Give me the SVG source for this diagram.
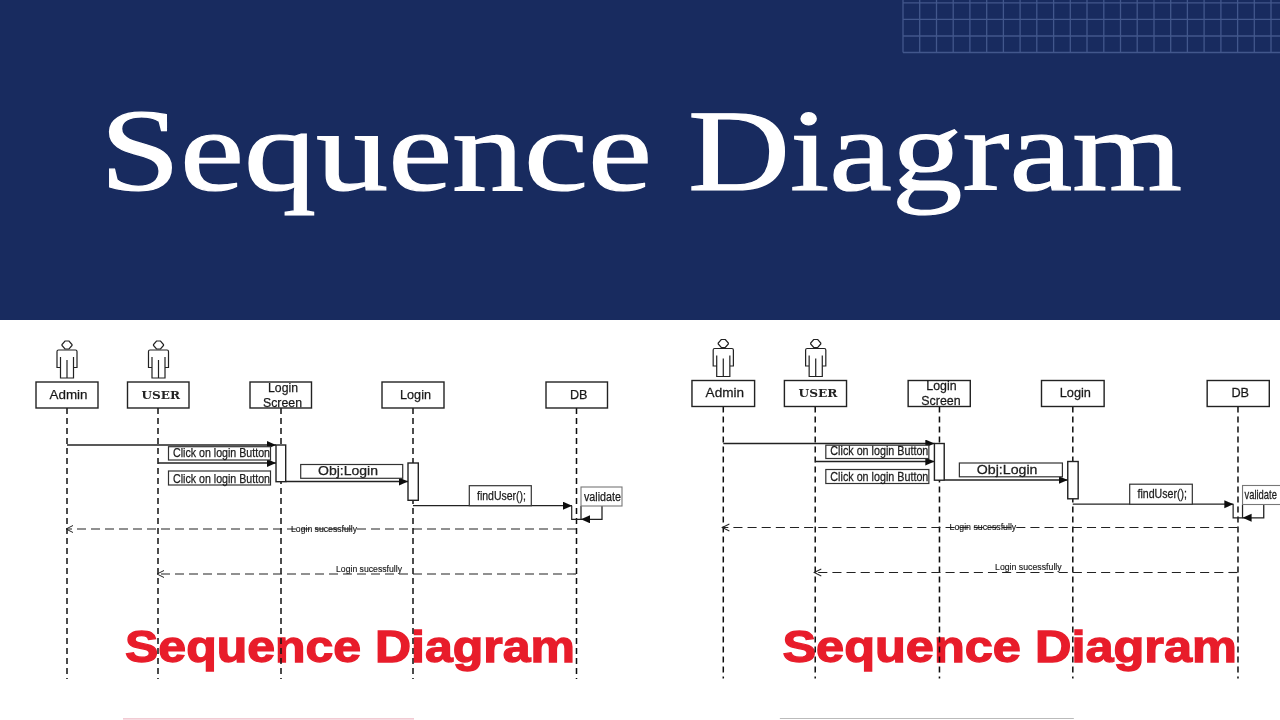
<svg xmlns="http://www.w3.org/2000/svg" width="1280" height="720" viewBox="0 0 1280 720">
<style>
.t{font-family:"Liberation Sans",Arial,sans-serif;fill:#1a1a1a;font-size:13.500px;stroke:#1a1a1a;stroke-width:.25}
.m{font-size:12.500px;fill:#222}
.s{font-size:8.500px;fill:#222;stroke-width:.15}
.u{font-family:"DejaVu Serif","Liberation Serif",serif;font-weight:700;font-size:11px;fill:#222}
.box{fill:#fff;stroke:#222;stroke-width:1.4}
.lab{fill:#fff;stroke:#333;stroke-width:1.2}
.act{fill:none;stroke:#222;stroke-width:1.200}
.life{fill:none;stroke:#111;stroke-width:1.500;stroke-dasharray:6 4}
.msg{fill:none;stroke:#222;stroke-width:1.300}
.ret{fill:none;stroke:#222;stroke-width:1.100;stroke-dasharray:9 5}
.red{font-family:"Liberation Sans",Arial,sans-serif;font-weight:700;font-size:44px;fill:#e81c2b;stroke:#e81c2b;stroke-width:1.300}
</style>
<defs>
<marker id="fa" markerWidth="10" markerHeight="9" refX="9" refY="4" orient="auto" markerUnits="userSpaceOnUse"><path d="M0 0L9 4L0 8z" fill="#111"/></marker>
<marker id="oa" markerWidth="9" markerHeight="9" refX="8" refY="4" orient="auto" markerUnits="userSpaceOnUse"><path d="M1 0.500L8 4L1 7.500" fill="none" stroke="#222" stroke-width="1"/></marker>
<filter id="soft" x="-2%" y="-2%" width="104%" height="104%"><feGaussianBlur stdDeviation="0.35"/></filter>
<g id="actor"><path d="M-2 -9H2L5 -5.500V-4.500L2 -1H-2L-5 -4.500V-5.500Z" fill="#fff" stroke="#222" stroke-width="1.200"/><path d="M-6.500 28V17.500H-10V1.500Q-10 0-8.500 0H8.500Q10 0 10 1.500V17.500H6.500V28ZM0 28V10M-6.500 17.500V7M6.500 17.500V7" fill="#fff" stroke="#222" stroke-width="1.200"/></g>
</defs>
<rect width="1280" height="320" fill="#182b5f"/>
<rect y="320" width="1280" height="400" fill="#fff"/>
<path id="grid" fill="none" stroke="#42578c" stroke-width="1.300" d="M903 0V52.500M919.700 0V52.500M936.500 0V52.500M953.200 0V52.500M969.900 0V52.500M986.700 0V52.500M1003.400 0V52.500M1020.100 0V52.500M1036.800 0V52.500M1053.600 0V52.500M1070.300 0V52.500M1087 0V52.500M1103.800 0V52.500M1120.500 0V52.500M1137.200 0V52.500M1154 0V52.500M1170.700 0V52.500M1187.400 0V52.500M1204.100 0V52.500M1220.900 0V52.500M1237.600 0V52.500M1254.300 0V52.500M1271 0V52.500M903 2.800H1280M903 19.400H1280M903 36H1280M903 52.500H1280"/>
<text y="190" font-family="'Liberation Serif','DejaVu Serif',serif" font-size="116" fill="#fff" stroke="#fff" stroke-width="1.200"><tspan x="100" textLength="552" lengthAdjust="spacingAndGlyphs">Sequence</tspan> <tspan x="688" textLength="494" lengthAdjust="spacingAndGlyphs">Diagram</tspan></text>

<g id="panel-left" filter="url(#soft)">
<text class="red" x="125" y="661.500" textLength="450" lengthAdjust="spacingAndGlyphs">Sequence Diagram</text>
<g id="connectors-left">
<path class="life" d="M67 408V679M158 408V679M281 408V679M413 408V679M576.500 408V679"/>
<path class="msg" d="M67 445H276" marker-end="url(#fa)"/>
<path class="msg" d="M158 463H276" marker-end="url(#fa)"/>
<path class="msg" d="M286 481.500H408" marker-end="url(#fa)"/>
<path class="msg" d="M413 505.700H572" marker-end="url(#fa)"/>
<path class="msg" d="M602 506V519.300H581" marker-end="url(#fa)"/>
<path class="ret" d="M576 529H66" marker-end="url(#oa)"/>
<path class="ret" d="M576 574H157" marker-end="url(#oa)"/>
</g>
<g id="admin-l"><use href="#actor" x="67" y="350"/><rect class="box" x="36" y="382" width="62" height="26"/><text class="t" x="49.500" y="398.500" textLength="38" lengthAdjust="spacingAndGlyphs">Admin</text></g>
<g id="user-l"><use href="#actor" x="158.500" y="350"/><rect class="box" x="127.500" y="382" width="61.500" height="26"/><text class="u" x="141.500" y="398.500" textLength="38.500" lengthAdjust="spacingAndGlyphs">USER</text></g>
<g id="screen-l"><rect class="box" x="250" y="382" width="61.500" height="26"/><text class="t" x="268" y="392" textLength="30" lengthAdjust="spacingAndGlyphs">Login</text><text class="t" x="263" y="407" textLength="39" lengthAdjust="spacingAndGlyphs">Screen</text></g>
<g id="login-l"><rect class="box" x="382" y="382" width="62" height="26"/><text class="t" x="400" y="398.500" textLength="31" lengthAdjust="spacingAndGlyphs">Login</text></g>
<g id="db-l"><rect class="box" x="546" y="382" width="61.500" height="26"/><text class="t" x="570" y="398.500" textLength="17.500" lengthAdjust="spacingAndGlyphs">DB</text></g>
<g id="act1-l"><rect class="box" x="276" y="445" width="9.700" height="36.700"/></g>
<g id="act2-l"><rect class="box" x="408" y="463" width="10.300" height="37.300"/></g>
<g id="act3-l"><path class="act" d="M571.700 505.700V519.300H581V506"/></g>
<g id="m1-l"><rect class="lab" x="168.500" y="446.700" width="102" height="13.300"/><text class="t m" x="173" y="457" textLength="97" lengthAdjust="spacingAndGlyphs">Click on login Button</text></g>
<g id="m2-l"><rect class="lab" x="168.500" y="471" width="102" height="14"/><text class="t m" x="173" y="482.500" textLength="97" lengthAdjust="spacingAndGlyphs">Click on login Button</text></g>
<g id="m3-l"><rect class="lab" x="300.700" y="464.500" width="102" height="13.800"/><text class="t m" x="318" y="475.300" textLength="60" lengthAdjust="spacingAndGlyphs">Obj:Login</text></g>
<g id="m4-l"><rect class="lab" x="469.300" y="485.700" width="62" height="20"/><text class="t m" x="477" y="500" textLength="49" lengthAdjust="spacingAndGlyphs">findUser();</text></g>
<g id="m5-l"><rect x="581" y="487" width="41" height="19" fill="#fff" stroke="#777" stroke-width="1.100"/><text class="t m" x="584" y="500.500" textLength="37" lengthAdjust="spacingAndGlyphs">validate</text></g>
<g id="r1-l"><text class="t s" x="291" y="532" textLength="66" lengthAdjust="spacingAndGlyphs">Login sucessfully</text></g>
<g id="r2-l"><text class="t s" x="336" y="572" textLength="66" lengthAdjust="spacingAndGlyphs">Login sucessfully</text></g>
<path d="M123 718.800H414" stroke="#eeb8c4" stroke-width="1.200" fill="none"/>
</g>

<g id="panel-right" filter="url(#soft)" transform="translate(655.600,-1.500) scale(1.0102,1)">
<text class="red" x="125.500" y="663.500" textLength="450" lengthAdjust="spacingAndGlyphs">Sequence Diagram</text>
<g id="connectors-right">
<path class="life" d="M67 408V680M158 408V680M281 408V680M413 408V680M576.500 408V680"/>
<path class="msg" d="M67 445H276" marker-end="url(#fa)"/>
<path class="msg" d="M158 463H276" marker-end="url(#fa)"/>
<path class="msg" d="M286 481.500H408" marker-end="url(#fa)"/>
<path class="msg" d="M413 505.700H572" marker-end="url(#fa)"/>
<path class="msg" d="M602 506V519.300H581" marker-end="url(#fa)"/>
<path class="ret" d="M576 529H66" marker-end="url(#oa)"/>
<path class="ret" d="M576 574H157" marker-end="url(#oa)"/>
</g>
<g id="admin-r"><use href="#actor" x="67" y="350"/><rect class="box" x="36" y="382" width="62" height="26"/><text class="t" x="49.500" y="398.500" textLength="38" lengthAdjust="spacingAndGlyphs">Admin</text></g>
<g id="user-r"><use href="#actor" x="158.500" y="350"/><rect class="box" x="127.500" y="382" width="61.500" height="26"/><text class="u" x="141.500" y="398.500" textLength="38.500" lengthAdjust="spacingAndGlyphs">USER</text></g>
<g id="screen-r"><rect class="box" x="250" y="382" width="61.500" height="26"/><text class="t" x="268" y="392" textLength="30" lengthAdjust="spacingAndGlyphs">Login</text><text class="t" x="263" y="407" textLength="39" lengthAdjust="spacingAndGlyphs">Screen</text></g>
<g id="login-r"><rect class="box" x="382" y="382" width="62" height="26"/><text class="t" x="400" y="398.500" textLength="31" lengthAdjust="spacingAndGlyphs">Login</text></g>
<g id="db-r"><rect class="box" x="546" y="382" width="61.500" height="26"/><text class="t" x="570" y="398.500" textLength="17.500" lengthAdjust="spacingAndGlyphs">DB</text></g>
<g id="act1-r"><rect class="box" x="276" y="445" width="9.700" height="36.700"/></g>
<g id="act2-r"><rect class="box" x="408" y="463" width="10.300" height="37.300"/></g>
<g id="act3-r"><path class="act" d="M571.700 505.700V519.300H581V506"/></g>
<g id="m1-r"><rect class="lab" x="168.500" y="446.700" width="102" height="13.300"/><text class="t m" x="173" y="457" textLength="97" lengthAdjust="spacingAndGlyphs">Click on login Button</text></g>
<g id="m2-r"><rect class="lab" x="168.500" y="471" width="102" height="14"/><text class="t m" x="173" y="482.500" textLength="97" lengthAdjust="spacingAndGlyphs">Click on login Button</text></g>
<g id="m3-r"><rect class="lab" x="300.700" y="464.500" width="102" height="13.800"/><text class="t m" x="318" y="475.300" textLength="60" lengthAdjust="spacingAndGlyphs">Obj:Login</text></g>
<g id="m4-r"><rect class="lab" x="469.300" y="485.700" width="62" height="20"/><text class="t m" x="477" y="500" textLength="49" lengthAdjust="spacingAndGlyphs">findUser();</text></g>
<g id="m5-r"><rect x="581" y="487" width="41" height="19" fill="#fff" stroke="#777" stroke-width="1.100"/><text class="t m" x="583" y="500.500" textLength="32" lengthAdjust="spacingAndGlyphs">validate</text></g>
<g id="r1-r"><text class="t s" x="291" y="532" textLength="66" lengthAdjust="spacingAndGlyphs">Login sucessfully</text></g>
<g id="r2-r"><text class="t s" x="336" y="572" textLength="66" lengthAdjust="spacingAndGlyphs">Login sucessfully</text></g>
<path d="M123 720H414" stroke="#bbb" stroke-width="1.200" fill="none"/>
</g>
</svg>
